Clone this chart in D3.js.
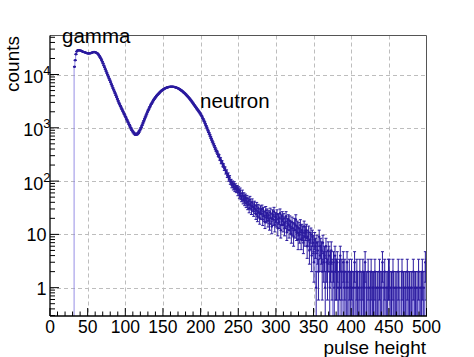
<!DOCTYPE html>
<html><head><meta charset="utf-8">
<script src="https://cdn.jsdelivr.net/npm/d3@7/dist/d3.min.js"></script>
<style>
html,body{margin:0;padding:0;background:#fff;}
svg{display:block;font-family:"Liberation Sans",Arial,Helvetica,sans-serif;}
</style></head>
<body><svg id="c" width="474" height="357"></svg>
<script>
// ---- data ----
const binStart = 32;      // lower edge of first bin
const binWidth = 1;       // bin width (pulse height units)
const counts = [
// 32-41
14000,18500,24000,27000,28200,28500,28600,28400,28100,27900,
// 42-51
27400,26900,26600,26300,26000,25700,25400,25100,24900,24800,
// 52-61
24900,25100,25400,25700,26000,26300,26400,26300,26100,25700,
// 62-71
25200,24500,23500,22400,21200,20000,18700,17400,16100,14800,
// 72-81
13700,12600,11600,10700,9900,9100,8400,7800,7200,6600,
// 82-91
6100,5600,5200,4800,4450,4100,3780,3470,3200,2950,
// 92-101
2760,2570,2400,2240,2090,1950,1820,1700,1590,1480,
// 102-111
1380,1290,1200,1120,1050,980,920,870,830,795,
// 112-121
770,750,752,760,780,810,855,910,975,1050,
// 122-131
1135,1230,1335,1450,1570,1700,1845,2000,2140,2290,
// 132-141
2460,2630,2790,2950,3130,3310,3470,3630,3800,3980,
// 142-151
4120,4270,4420,4570,4730,4900,5010,5130,5250,5370,
// 152-161
5460,5560,5640,5710,5760,5820,5860,5890,5910,5920,
// 162-171
5910,5890,5860,5820,5760,5690,5630,5560,5470,5370,
// 172-181
5250,5130,5020,4900,4760,4620,4490,4370,4220,4070,
// 182-191
3930,3800,3650,3510,3370,3240,3090,2950,2820,2690,
// 192-201
2570,2450,2340,2240,2140,2040,1950,1860,1760,1660,
// 202-211
1550,1450,1350,1260,1160,1070,990,910,845,780,
// 212-221
720,660,610,560,520,480,445,410,380,355,
// 222-231
335,306,296,262,258,228,226,200,196,172,
// 232-239
171,148,150,128,131,110,116,97,
// 240-249
98,84,91,77,88,72,80,69,74,61,
// 250-259
70,55,66,52,48,60,44,53,41,50,
// 260-269
38,47,35,42,31,45,36,29,40,33,
// 270-279
27,36,30,24,34,22,31,26,20,29,
// 280-289
24,30,19,27,22,17,28,21,25,18,
// 290-299
23,16,26,20,14,24,19,27,15,21,
// 300-309
18,24,13,20,17,25,12,19,22,15,
// 310-319
20,13,17,22,11,16,19,12,18,14,
// 320-329
10,17,13,9,16,12,19,11,14,8,
// 330-339
13,10,15,8,12,11,7,14,9,11,
// 340-349
12,6,9,11,5,8,10,4,9,7,
// 350-359
3,8,6,1,7,5,2,9,4,6,
// 360-369
5,2,7,3,4,1,6,3,2,5,
// 370-379
4,1,3,5,2,0,3,1,4,2,
// 380-389
2,3,1,0,2,4,1,2,0,3,
// 390-399
1,2,0,1,3,1,0,2,1,1,
// 400-409
2,0,1,1,3,0,1,2,1,0,
// 410-419
1,2,0,1,0,2,1,1,3,0,
// 420-429
1,0,2,1,0,1,2,0,1,1,
// 430-439
0,2,1,0,1,1,0,2,1,0,
// 440-449
1,3,0,1,2,0,1,0,1,2,
// 450-459
2,1,0,1,0,2,1,0,1,0,
// 460-469
1,0,2,1,0,0,1,2,0,1,
// 470-479
0,1,1,0,2,1,0,1,0,1,
// 480-489
1,0,2,0,1,1,0,1,0,2,
// 490-499
0,1,0,1,2,0,1,0,3,2
];
const xTicks = [0,50,100,150,200,250,300,350,400,450,500];
const yTicks = [1,10,100,1000,10000];
const yTickLabels = [["1",""],["10",""],["10","2"],["10","3"],["10","4"]];
const xTitle = "pulse height";
const yTitle = "counts";
const annotations = ["gamma","neutron"];

// ---- layout ----
const L=50, R=426.5, T=35.5, B=316;
const svg = d3.select("#c");
const x = d3.scaleLinear().domain([0,500]).range([L,R]);
const y = d3.scaleLog().domain([0.294,54000]).range([B,T]);

const dark = "#2a1a9e", light = "#8a82e2";

// grid
const grid = svg.append("g").attr("stroke","#bdbdbd").attr("stroke-width",1).attr("stroke-dasharray","4,3");
xTicks.filter(t=>t>0&&t<500).forEach(t=>{
  grid.append("line").attr("x1",Math.round(x(t))+0.5).attr("x2",Math.round(x(t))+0.5).attr("y1",T).attr("y2",B);
});
yTicks.forEach(t=>{
  grid.append("line").attr("x1",L).attr("x2",R).attr("y1",Math.round(y(t))+0.5).attr("y2",Math.round(y(t))+0.5);
});

// clip
svg.append("clipPath").attr("id","pc").append("rect").attr("x",L).attr("y",T).attr("width",R-L).attr("height",B-T);
const plot = svg.append("g").attr("clip-path","url(#pc)");

const bins = counts.map((c,i)=>({lo:binStart+i*binWidth, hi:binStart+(i+1)*binWidth, c}));
const ymin = y.domain()[0];
const yv = v => v>ymin ? y(v) : B+2;

// histogram outline (light)
let pts = [[x(0), B+2],[x(binStart), B+2]];
bins.forEach(b=>{ pts.push([x(b.lo), yv(b.c)]); pts.push([x(b.hi), yv(b.c)]); });
pts.push([x(500), B+2]);
plot.append("path").attr("d", d3.line()(pts)).attr("fill","none").attr("stroke",light).attr("stroke-width",0.9);

// error bars + markers
const eg = plot.append("g").attr("stroke",dark).attr("stroke-width",1);
bins.filter(b=>b.c>0).forEach(b=>{
  const cx = x((b.lo+b.hi)/2);
  const e = Math.sqrt(b.c);
  const y1 = yv(b.c+e), y0 = yv(b.c-e);
  eg.append("line").attr("x1",cx).attr("x2",cx).attr("y1",y0).attr("y2",y1);
  eg.append("line").attr("x1",cx-1.5).attr("x2",cx+1.5).attr("y1",y1).attr("y2",y1);
  if (b.c-e>ymin) eg.append("line").attr("x1",cx-1.5).attr("x2",cx+1.5).attr("y1",y0).attr("y2",y0);
});
plot.append("g").attr("fill",dark).selectAll("circle").data(bins.filter(b=>b.c>0)).join("circle")
  .attr("cx",b=>x((b.lo+b.hi)/2)).attr("cy",b=>y(b.c)).attr("r",1.2);

// frame
svg.append("line").attr("x1",L).attr("x2",R).attr("y1",T).attr("y2",T).attr("stroke","#555").attr("stroke-width",1);
svg.append("line").attr("x1",R).attr("x2",R).attr("y1",T).attr("y2",B).attr("stroke","#555").attr("stroke-width",1);
svg.append("line").attr("x1",L).attr("x2",R+0.5).attr("y1",B).attr("y2",B).attr("stroke","#000").attr("stroke-width",1.3);
svg.append("line").attr("x1",L).attr("x2",L).attr("y1",T).attr("y2",B).attr("stroke","#000").attr("stroke-width",1.3);

// x ticks (inside)
const tk = svg.append("g").attr("stroke","#000").attr("stroke-width",1);
d3.range(0,501,10).forEach(v=>{
  const major = v%50===0;
  tk.append("line").attr("x1",x(v)).attr("x2",x(v)).attr("y1",B).attr("y2",B-(major?8:4.5));
});
// y ticks (inside, log minors)
for (let d=-1; d<=4; d++){
  for (let m=1; m<=9; m++){
    const v = m*Math.pow(10,d);
    if (v<ymin || v>y.domain()[1]) continue;
    const yy = y(v);
    tk.append("line").attr("x1",L).attr("x2",L+(m===1?9:5)).attr("y1",yy).attr("y2",yy);
  }
}

// x tick labels
svg.append("g").selectAll("text").data(xTicks).join("text")
  .attr("x",d=>x(d)).attr("y",333).attr("text-anchor","middle")
  .attr("font-size",17.5).attr("fill","#000").text(d=>d);

// y tick labels
yTicks.forEach((t,i)=>{
  const [base,sup] = yTickLabels[i];
  const tx = svg.append("text").attr("text-anchor","end").attr("fill","#000").attr("font-size",18);
  if (sup){
    tx.attr("x",50.5).attr("y",y(t)+8.5);
    tx.append("tspan").text(base);
    tx.append("tspan").attr("font-size",13).attr("dy",-8).text(sup);
  } else {
    tx.attr("x",46.5).attr("y",y(t)+7).text(base);
  }
});

// titles
svg.append("text").attr("x",426).attr("y",354).attr("text-anchor","end").attr("font-size",19).text(xTitle);
svg.append("text").attr("transform","translate(18.5,36) rotate(-90)").attr("text-anchor","end").attr("font-size",19).text(yTitle);

// annotations
svg.append("text").attr("x",62).attr("y",43).attr("font-size",20.5).text(annotations[0]);
svg.append("text").attr("x",200).attr("y",107.5).attr("font-size",20.5).text(annotations[1]);
</script></body></html>
